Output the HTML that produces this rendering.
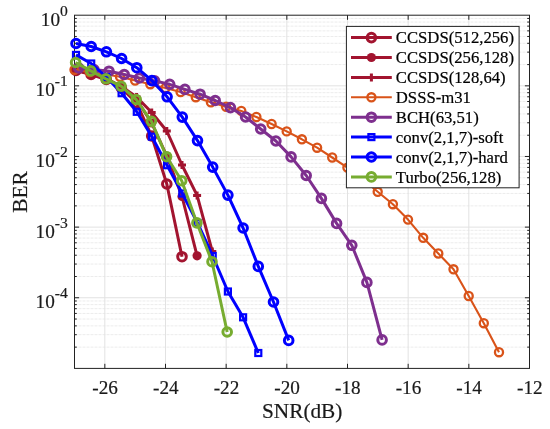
<!DOCTYPE html>
<html><head><meta charset="utf-8"><title>BER vs SNR</title>
<style>html,body{margin:0;padding:0;background:#fff}body{width:550px;height:429px;overflow:hidden}</style>
</head><body>
<svg width="550" height="429" viewBox="0 0 550 429" style="display:block">
<rect width="550" height="429" fill="#fff"/>
<g stroke="#ececec" stroke-width="1" stroke-dasharray="3 1"><line x1="74.5" x2="529.5" y1="64.58" y2="64.58"/><line x1="74.5" x2="529.5" y1="52.14" y2="52.14"/><line x1="74.5" x2="529.5" y1="43.31" y2="43.31"/><line x1="74.5" x2="529.5" y1="36.46" y2="36.46"/><line x1="74.5" x2="529.5" y1="30.87" y2="30.87"/><line x1="74.5" x2="529.5" y1="26.14" y2="26.14"/><line x1="74.5" x2="529.5" y1="22.05" y2="22.05"/><line x1="74.5" x2="529.5" y1="18.43" y2="18.43"/><line x1="74.5" x2="529.5" y1="135.22" y2="135.22"/><line x1="74.5" x2="529.5" y1="122.78" y2="122.78"/><line x1="74.5" x2="529.5" y1="113.95" y2="113.95"/><line x1="74.5" x2="529.5" y1="107.10" y2="107.10"/><line x1="74.5" x2="529.5" y1="101.51" y2="101.51"/><line x1="74.5" x2="529.5" y1="96.78" y2="96.78"/><line x1="74.5" x2="529.5" y1="92.69" y2="92.69"/><line x1="74.5" x2="529.5" y1="89.07" y2="89.07"/><line x1="74.5" x2="529.5" y1="205.86" y2="205.86"/><line x1="74.5" x2="529.5" y1="193.42" y2="193.42"/><line x1="74.5" x2="529.5" y1="184.59" y2="184.59"/><line x1="74.5" x2="529.5" y1="177.74" y2="177.74"/><line x1="74.5" x2="529.5" y1="172.15" y2="172.15"/><line x1="74.5" x2="529.5" y1="167.42" y2="167.42"/><line x1="74.5" x2="529.5" y1="163.33" y2="163.33"/><line x1="74.5" x2="529.5" y1="159.71" y2="159.71"/><line x1="74.5" x2="529.5" y1="276.50" y2="276.50"/><line x1="74.5" x2="529.5" y1="264.06" y2="264.06"/><line x1="74.5" x2="529.5" y1="255.23" y2="255.23"/><line x1="74.5" x2="529.5" y1="248.38" y2="248.38"/><line x1="74.5" x2="529.5" y1="242.79" y2="242.79"/><line x1="74.5" x2="529.5" y1="238.06" y2="238.06"/><line x1="74.5" x2="529.5" y1="233.97" y2="233.97"/><line x1="74.5" x2="529.5" y1="230.35" y2="230.35"/><line x1="74.5" x2="529.5" y1="347.14" y2="347.14"/><line x1="74.5" x2="529.5" y1="334.70" y2="334.70"/><line x1="74.5" x2="529.5" y1="325.87" y2="325.87"/><line x1="74.5" x2="529.5" y1="319.02" y2="319.02"/><line x1="74.5" x2="529.5" y1="313.43" y2="313.43"/><line x1="74.5" x2="529.5" y1="308.70" y2="308.70"/><line x1="74.5" x2="529.5" y1="304.61" y2="304.61"/><line x1="74.5" x2="529.5" y1="300.99" y2="300.99"/></g>
<g stroke="#e2e2e2" stroke-width="1"><line x1="74.5" x2="529.5" y1="85.84" y2="85.84"/><line x1="74.5" x2="529.5" y1="156.48" y2="156.48"/><line x1="74.5" x2="529.5" y1="227.12" y2="227.12"/><line x1="74.5" x2="529.5" y1="297.76" y2="297.76"/><line x1="104.83" x2="104.83" y1="15.2" y2="368.4"/><line x1="165.50" x2="165.50" y1="15.2" y2="368.4"/><line x1="226.17" x2="226.17" y1="15.2" y2="368.4"/><line x1="286.83" x2="286.83" y1="15.2" y2="368.4"/><line x1="347.50" x2="347.50" y1="15.2" y2="368.4"/><line x1="408.17" x2="408.17" y1="15.2" y2="368.4"/><line x1="468.83" x2="468.83" y1="15.2" y2="368.4"/></g>
<g stroke="#222222" stroke-width="1" fill="none"><rect x="74.5" y="15.2" width="455.0" height="353.2" fill="none"/><path d="M104.83 368.4v-4.6M104.83 15.2v4.6"/><path d="M165.50 368.4v-4.6M165.50 15.2v4.6"/><path d="M226.17 368.4v-4.6M226.17 15.2v4.6"/><path d="M286.83 368.4v-4.6M286.83 15.2v4.6"/><path d="M347.50 368.4v-4.6M347.50 15.2v4.6"/><path d="M408.17 368.4v-4.6M408.17 15.2v4.6"/><path d="M468.83 368.4v-4.6M468.83 15.2v4.6"/><path d="M74.5 64.58h2.3M529.5 64.58h-2.3"/><path d="M74.5 52.14h2.3M529.5 52.14h-2.3"/><path d="M74.5 43.31h2.3M529.5 43.31h-2.3"/><path d="M74.5 36.46h2.3M529.5 36.46h-2.3"/><path d="M74.5 30.87h2.3M529.5 30.87h-2.3"/><path d="M74.5 26.14h2.3M529.5 26.14h-2.3"/><path d="M74.5 22.05h2.3M529.5 22.05h-2.3"/><path d="M74.5 18.43h2.3M529.5 18.43h-2.3"/><path d="M74.5 85.84h4.6M529.5 85.84h-4.6"/><path d="M74.5 135.22h2.3M529.5 135.22h-2.3"/><path d="M74.5 122.78h2.3M529.5 122.78h-2.3"/><path d="M74.5 113.95h2.3M529.5 113.95h-2.3"/><path d="M74.5 107.10h2.3M529.5 107.10h-2.3"/><path d="M74.5 101.51h2.3M529.5 101.51h-2.3"/><path d="M74.5 96.78h2.3M529.5 96.78h-2.3"/><path d="M74.5 92.69h2.3M529.5 92.69h-2.3"/><path d="M74.5 89.07h2.3M529.5 89.07h-2.3"/><path d="M74.5 156.48h4.6M529.5 156.48h-4.6"/><path d="M74.5 205.86h2.3M529.5 205.86h-2.3"/><path d="M74.5 193.42h2.3M529.5 193.42h-2.3"/><path d="M74.5 184.59h2.3M529.5 184.59h-2.3"/><path d="M74.5 177.74h2.3M529.5 177.74h-2.3"/><path d="M74.5 172.15h2.3M529.5 172.15h-2.3"/><path d="M74.5 167.42h2.3M529.5 167.42h-2.3"/><path d="M74.5 163.33h2.3M529.5 163.33h-2.3"/><path d="M74.5 159.71h2.3M529.5 159.71h-2.3"/><path d="M74.5 227.12h4.6M529.5 227.12h-4.6"/><path d="M74.5 276.50h2.3M529.5 276.50h-2.3"/><path d="M74.5 264.06h2.3M529.5 264.06h-2.3"/><path d="M74.5 255.23h2.3M529.5 255.23h-2.3"/><path d="M74.5 248.38h2.3M529.5 248.38h-2.3"/><path d="M74.5 242.79h2.3M529.5 242.79h-2.3"/><path d="M74.5 238.06h2.3M529.5 238.06h-2.3"/><path d="M74.5 233.97h2.3M529.5 233.97h-2.3"/><path d="M74.5 230.35h2.3M529.5 230.35h-2.3"/><path d="M74.5 297.76h4.6M529.5 297.76h-4.6"/><path d="M74.5 347.14h2.3M529.5 347.14h-2.3"/><path d="M74.5 334.70h2.3M529.5 334.70h-2.3"/><path d="M74.5 325.87h2.3M529.5 325.87h-2.3"/><path d="M74.5 319.02h2.3M529.5 319.02h-2.3"/><path d="M74.5 313.43h2.3M529.5 313.43h-2.3"/><path d="M74.5 308.70h2.3M529.5 308.70h-2.3"/><path d="M74.5 304.61h2.3M529.5 304.61h-2.3"/><path d="M74.5 300.99h2.3M529.5 300.99h-2.3"/></g>
<clipPath id="c"><rect x="68.5" y="15.2" width="467.0" height="353.2"/></clipPath>
<g>
<polyline fill="none" stroke="#A2142F" stroke-width="3.0" stroke-linejoin="round" points="76.0,70.5 91.1,74.5 106.3,79.5 121.4,88.0 136.6,103.0 151.7,136.0 166.8,184.0 182.0,256.7"/>
<g fill="none" stroke="#A2142F" stroke-width="3.0"><circle cx="76.0" cy="70.5" r="4.3"/><circle cx="91.1" cy="74.5" r="4.3"/><circle cx="106.3" cy="79.5" r="4.3"/><circle cx="121.4" cy="88.0" r="4.3"/><circle cx="136.6" cy="103.0" r="4.3"/><circle cx="151.7" cy="136.0" r="4.3"/><circle cx="166.8" cy="184.0" r="4.3"/><circle cx="182.0" cy="256.7" r="4.3"/></g>
<polyline fill="none" stroke="#A2142F" stroke-width="3.0" stroke-linejoin="round" points="76.0,70.0 91.1,74.0 106.3,79.0 121.4,87.0 136.6,99.5 151.7,123.0 166.8,156.0 182.0,196.5 197.1,255.8"/>
<g fill="#A2142F"><circle cx="76.0" cy="70.0" r="4.6"/><circle cx="91.1" cy="74.0" r="4.6"/><circle cx="106.3" cy="79.0" r="4.6"/><circle cx="121.4" cy="87.0" r="4.6"/><circle cx="136.6" cy="99.5" r="4.6"/><circle cx="151.7" cy="123.0" r="4.6"/><circle cx="166.8" cy="156.0" r="4.6"/><circle cx="182.0" cy="196.5" r="4.6"/><circle cx="197.1" cy="255.8" r="4.6"/></g>
<polyline fill="none" stroke="#A2142F" stroke-width="3.0" stroke-linejoin="round" points="76.0,69.5 91.1,73.5 106.3,78.5 121.4,86.5 136.6,97.0 151.7,112.5 166.8,131.0 182.0,165.0 197.1,195.4 212.3,251.5"/>
<g fill="none" stroke="#A2142F" stroke-width="3.0"><path d="M72.0 69.5H80.0M76.0 65.5V73.5"/><path d="M87.1 73.5H95.1M91.1 69.5V77.5"/><path d="M102.3 78.5H110.3M106.3 74.5V82.5"/><path d="M117.4 86.5H125.4M121.4 82.5V90.5"/><path d="M132.6 97.0H140.6M136.6 93.0V101.0"/><path d="M147.7 112.5H155.7M151.7 108.5V116.5"/><path d="M162.8 131.0H170.8M166.8 127.0V135.0"/><path d="M178.0 165.0H186.0M182.0 161.0V169.0"/><path d="M193.1 195.4H201.1M197.1 191.4V199.4"/><path d="M208.3 251.5H216.3M212.3 247.5V255.5"/></g>
<polyline fill="none" stroke="#D95319" stroke-width="2.1" stroke-linejoin="round" points="74.5,69.7 89.7,72.0 104.8,74.3 120.0,76.8 135.1,80.5 150.3,84.2 165.5,88.0 180.6,92.0 195.8,97.2 210.9,102.3 226.1,106.7 241.3,110.9 256.4,117.0 271.6,124.0 286.7,131.4 301.9,139.3 317.1,147.7 332.2,157.5 347.4,167.6 362.5,179.0 377.7,191.8 392.9,204.2 408.0,219.6 423.2,237.8 438.3,253.5 453.5,269.3 468.7,296.0 483.8,323.2 499.0,352.2"/>
<g fill="none" stroke="#D95319" stroke-width="2.3"><circle cx="74.5" cy="69.7" r="4.05"/><circle cx="89.7" cy="72.0" r="4.05"/><circle cx="104.8" cy="74.3" r="4.05"/><circle cx="120.0" cy="76.8" r="4.05"/><circle cx="135.1" cy="80.5" r="4.05"/><circle cx="150.3" cy="84.2" r="4.05"/><circle cx="165.5" cy="88.0" r="4.05"/><circle cx="180.6" cy="92.0" r="4.05"/><circle cx="195.8" cy="97.2" r="4.05"/><circle cx="210.9" cy="102.3" r="4.05"/><circle cx="226.1" cy="106.7" r="4.05"/><circle cx="241.3" cy="110.9" r="4.05"/><circle cx="256.4" cy="117.0" r="4.05"/><circle cx="271.6" cy="124.0" r="4.05"/><circle cx="286.7" cy="131.4" r="4.05"/><circle cx="301.9" cy="139.3" r="4.05"/><circle cx="317.1" cy="147.7" r="4.05"/><circle cx="332.2" cy="157.5" r="4.05"/><circle cx="347.4" cy="167.6" r="4.05"/><circle cx="362.5" cy="179.0" r="4.05"/><circle cx="377.7" cy="191.8" r="4.05"/><circle cx="392.9" cy="204.2" r="4.05"/><circle cx="408.0" cy="219.6" r="4.05"/><circle cx="423.2" cy="237.8" r="4.05"/><circle cx="438.3" cy="253.5" r="4.05"/><circle cx="453.5" cy="269.3" r="4.05"/><circle cx="468.7" cy="296.0" r="4.05"/><circle cx="483.8" cy="323.2" r="4.05"/><circle cx="499.0" cy="352.2" r="4.05"/></g>
<polyline fill="none" stroke="#7E2F8E" stroke-width="3.0" stroke-linejoin="round" points="78.7,68.0 93.9,69.5 109.0,71.2 124.2,74.5 139.4,78.0 154.6,80.9 169.7,84.3 184.9,89.4 200.1,94.2 215.2,100.5 230.4,107.6 245.6,117.0 260.7,129.0 275.9,141.0 291.1,156.9 306.2,175.5 321.4,198.4 336.6,223.4 351.8,245.3 366.9,282.4 382.1,339.9"/>
<g fill="none" stroke="#7E2F8E" stroke-width="3.0"><circle cx="78.7" cy="68.0" r="4.3"/><circle cx="93.9" cy="69.5" r="4.3"/><circle cx="109.0" cy="71.2" r="4.3"/><circle cx="124.2" cy="74.5" r="4.3"/><circle cx="139.4" cy="78.0" r="4.3"/><circle cx="154.6" cy="80.9" r="4.3"/><circle cx="169.7" cy="84.3" r="4.3"/><circle cx="184.9" cy="89.4" r="4.3"/><circle cx="200.1" cy="94.2" r="4.3"/><circle cx="215.2" cy="100.5" r="4.3"/><circle cx="230.4" cy="107.6" r="4.3"/><circle cx="245.6" cy="117.0" r="4.3"/><circle cx="260.7" cy="129.0" r="4.3"/><circle cx="275.9" cy="141.0" r="4.3"/><circle cx="291.1" cy="156.9" r="4.3"/><circle cx="306.2" cy="175.5" r="4.3"/><circle cx="321.4" cy="198.4" r="4.3"/><circle cx="336.6" cy="223.4" r="4.3"/><circle cx="351.8" cy="245.3" r="4.3"/><circle cx="366.9" cy="282.4" r="4.3"/><circle cx="382.1" cy="339.9" r="4.3"/></g>
<polyline fill="none" stroke="#0000FF" stroke-width="3.0" stroke-linejoin="round" points="76.0,54.9 91.2,63.5 106.4,77.0 121.6,93.2 136.8,111.8 151.9,136.7 167.1,165.2 182.3,193.5 197.5,223.0 212.7,256.0 227.9,291.5 243.1,317.3 258.3,353.0"/>
<g fill="none" stroke="#0000FF" stroke-width="2.2"><rect x="73.0" y="51.9" width="6" height="6"/><rect x="88.2" y="60.5" width="6" height="6"/><rect x="103.4" y="74.0" width="6" height="6"/><rect x="118.6" y="90.2" width="6" height="6"/><rect x="133.8" y="108.8" width="6" height="6"/><rect x="148.9" y="133.7" width="6" height="6"/><rect x="164.1" y="162.2" width="6" height="6"/><rect x="179.3" y="190.5" width="6" height="6"/><rect x="194.5" y="220.0" width="6" height="6"/><rect x="209.7" y="253.0" width="6" height="6"/><rect x="224.9" y="288.5" width="6" height="6"/><rect x="240.1" y="314.3" width="6" height="6"/><rect x="255.3" y="350.0" width="6" height="6"/></g>
<polyline fill="none" stroke="#0000FF" stroke-width="3.0" stroke-linejoin="round" points="76.0,43.5 91.2,46.5 106.4,51.8 121.6,58.5 136.8,67.7 151.9,80.6 167.1,96.8 182.3,117.1 197.5,140.6 212.7,167.1 227.9,195.1 243.1,228.0 258.3,266.4 273.5,302.0 288.7,340.4"/>
<g fill="none" stroke="#0000FF" stroke-width="3.0"><circle cx="76.0" cy="43.5" r="4.3"/><circle cx="91.2" cy="46.5" r="4.3"/><circle cx="106.4" cy="51.8" r="4.3"/><circle cx="121.6" cy="58.5" r="4.3"/><circle cx="136.8" cy="67.7" r="4.3"/><circle cx="151.9" cy="80.6" r="4.3"/><circle cx="167.1" cy="96.8" r="4.3"/><circle cx="182.3" cy="117.1" r="4.3"/><circle cx="197.5" cy="140.6" r="4.3"/><circle cx="212.7" cy="167.1" r="4.3"/><circle cx="227.9" cy="195.1" r="4.3"/><circle cx="243.1" cy="228.0" r="4.3"/><circle cx="258.3" cy="266.4" r="4.3"/><circle cx="273.5" cy="302.0" r="4.3"/><circle cx="288.7" cy="340.4" r="4.3"/></g>
<polyline fill="none" stroke="#77AC30" stroke-width="3.0" stroke-linejoin="round" points="75.6,62.5 90.8,70.9 105.9,78.8 121.1,86.2 136.2,99.5 151.4,121.3 166.6,156.7 181.7,180.7 196.9,222.9 212.0,261.7 227.2,332.0"/>
<g fill="none" stroke="#77AC30" stroke-width="3.0"><circle cx="75.6" cy="62.5" r="4.3"/><circle cx="90.8" cy="70.9" r="4.3"/><circle cx="105.9" cy="78.8" r="4.3"/><circle cx="121.1" cy="86.2" r="4.3"/><circle cx="136.2" cy="99.5" r="4.3"/><circle cx="151.4" cy="121.3" r="4.3"/><circle cx="166.6" cy="156.7" r="4.3"/><circle cx="181.7" cy="180.7" r="4.3"/><circle cx="196.9" cy="222.9" r="4.3"/><circle cx="212.0" cy="261.7" r="4.3"/><circle cx="227.2" cy="332.0" r="4.3"/></g>
</g>
<g font-family="'Liberation Serif', 'Times New Roman', serif" fill="#1a1a1a" stroke="#1a1a1a" stroke-width="0.2">
<text x="105.1" y="393.8" font-size="19.2" text-anchor="middle">-26</text>
<text x="165.8" y="393.8" font-size="19.2" text-anchor="middle">-24</text>
<text x="226.5" y="393.8" font-size="19.2" text-anchor="middle">-22</text>
<text x="287.1" y="393.8" font-size="19.2" text-anchor="middle">-20</text>
<text x="347.8" y="393.8" font-size="19.2" text-anchor="middle">-18</text>
<text x="408.5" y="393.8" font-size="19.2" text-anchor="middle">-16</text>
<text x="469.1" y="393.8" font-size="19.2" text-anchor="middle">-14</text>
<text x="529.8" y="393.8" font-size="19.2" text-anchor="middle">-12</text>
<text x="67.8" y="25.6" font-size="19.2" text-anchor="end">10<tspan font-size="15.6" dy="-9.8">0</tspan></text>
<text x="67.8" y="96.2" font-size="19.2" text-anchor="end">10<tspan font-size="15.6" dy="-9.8">-1</tspan></text>
<text x="67.8" y="166.9" font-size="19.2" text-anchor="end">10<tspan font-size="15.6" dy="-9.8">-2</tspan></text>
<text x="67.8" y="237.5" font-size="19.2" text-anchor="end">10<tspan font-size="15.6" dy="-9.8">-3</tspan></text>
<text x="67.8" y="308.2" font-size="19.2" text-anchor="end">10<tspan font-size="15.6" dy="-9.8">-4</tspan></text>
<text x="302.2" y="417.7" font-size="21.3" text-anchor="middle">SNR(dB)</text>
<text transform="translate(27.2,192.1) rotate(-90)" font-size="21.3" text-anchor="middle">BER</text>
</g>
<rect x="346.4" y="26.4" width="172.70000000000005" height="161.4" fill="#fff" stroke="#222222" stroke-width="1"/>
<g font-family="'Liberation Serif', 'Times New Roman', serif" fill="#000" font-size="16.7">
<line x1="351" x2="391.8" y1="37.6" y2="37.6" stroke="#A2142F" stroke-width="3.0"/>
<g fill="none" stroke="#A2142F" stroke-width="3.0"><circle cx="371.4" cy="37.6" r="4.3"/></g>
<text x="395.8" y="43.2" stroke="#000" stroke-width="0.2">CCSDS(512,256)</text>
<line x1="351" x2="391.8" y1="57.5" y2="57.5" stroke="#A2142F" stroke-width="3.0"/>
<g fill="#A2142F"><circle cx="371.4" cy="57.5" r="4.6"/></g>
<text x="395.8" y="63.1" stroke="#000" stroke-width="0.2">CCSDS(256,128)</text>
<line x1="351" x2="391.8" y1="77.4" y2="77.4" stroke="#A2142F" stroke-width="3.0"/>
<g fill="none" stroke="#A2142F" stroke-width="3.0"><path d="M367.4 77.4H375.4M371.4 73.4V81.4"/></g>
<text x="395.8" y="83.0" stroke="#000" stroke-width="0.2">CCSDS(128,64)</text>
<line x1="351" x2="391.8" y1="97.3" y2="97.3" stroke="#D95319" stroke-width="2.1"/>
<g fill="none" stroke="#D95319" stroke-width="2.3"><circle cx="371.4" cy="97.3" r="4.05"/></g>
<text x="395.8" y="102.9" stroke="#000" stroke-width="0.2">DSSS-m31</text>
<line x1="351" x2="391.8" y1="117.2" y2="117.2" stroke="#7E2F8E" stroke-width="3.0"/>
<g fill="none" stroke="#7E2F8E" stroke-width="3.0"><circle cx="371.4" cy="117.2" r="4.3"/></g>
<text x="395.8" y="122.8" stroke="#000" stroke-width="0.2">BCH(63,51)</text>
<line x1="351" x2="391.8" y1="137.1" y2="137.1" stroke="#0000FF" stroke-width="3.0"/>
<g fill="none" stroke="#0000FF" stroke-width="2.2"><rect x="368.4" y="134.1" width="6" height="6"/></g>
<text x="395.8" y="142.7" stroke="#000" stroke-width="0.2">conv(2,1,7)-soft</text>
<line x1="351" x2="391.8" y1="157.0" y2="157.0" stroke="#0000FF" stroke-width="3.0"/>
<g fill="none" stroke="#0000FF" stroke-width="3.0"><circle cx="371.4" cy="157.0" r="4.3"/></g>
<text x="395.8" y="162.6" stroke="#000" stroke-width="0.2">conv(2,1,7)-hard</text>
<line x1="351" x2="391.8" y1="176.9" y2="176.9" stroke="#77AC30" stroke-width="3.0"/>
<g fill="none" stroke="#77AC30" stroke-width="3.0"><circle cx="371.4" cy="176.9" r="4.3"/></g>
<text x="395.8" y="182.5" stroke="#000" stroke-width="0.2">Turbo(256,128)</text>
</g>
</svg>
</body></html>
